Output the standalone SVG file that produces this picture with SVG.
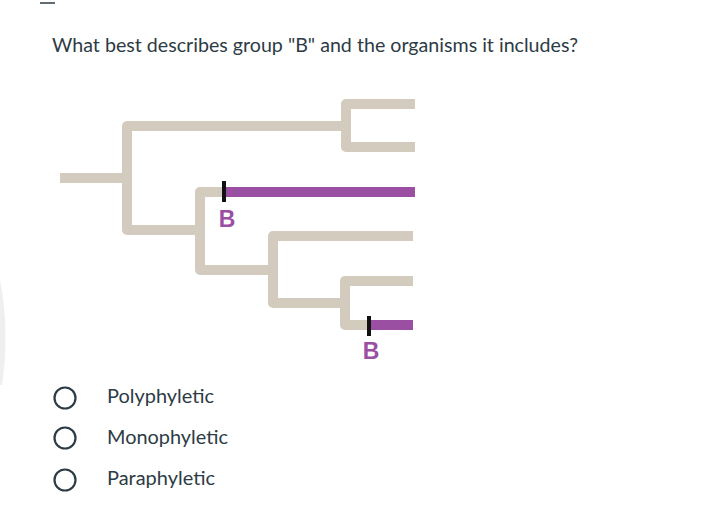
<svg xmlns="http://www.w3.org/2000/svg" width="710" height="517" viewBox="0 0 710 517">
<style>
.q{font-family:Lato,"Liberation Sans",sans-serif;fill:#2d3b45}
.g{fill:none;stroke:#d3cbbd;stroke-width:10;stroke-linejoin:round;stroke-linecap:butt}
.p{fill:none;stroke:#9a4fa2;stroke-width:10}
.t{stroke:#111;stroke-width:4}
.b{font-family:"Liberation Sans",Arial,sans-serif;font-weight:bold;font-size:23px;fill:#9a4fa2;text-anchor:middle}
.r{fill:none;stroke:#2d3b45;stroke-width:2.2}
</style>
<rect width="710" height="517" fill="#fff"/>
<line x1="40" y1="3" x2="55" y2="3" stroke="#2d3b45" stroke-width="1.5"/>
<path d="M0,280 Q10,330 2,385 L0,385 Z" fill="#efefef"/>
<text class="q" x="52" y="52" font-size="19.5" textLength="526" lengthAdjust="spacingAndGlyphs">What best describes group "B" and the organisms it includes?</text>
<g id="tree">
<path class="g" d="M60,178 H127"/>
<path class="g" d="M342,126 H127 V230 H200"/>
<path class="g" d="M415,104 H346 V147 H415"/>
<path class="g" d="M226,192 H200 V270 H273"/>
<path class="g" d="M413,236 H273 V303 H345"/>
<path class="g" d="M413,281 H345 V325 H370"/>
<path class="p" d="M224,192 H415"/>
<path class="p" d="M369,325 H413"/>
<line class="t" x1="224" y1="181" x2="224" y2="202"/>
<line class="t" x1="369" y1="316" x2="369" y2="336"/>
<text class="b" x="227" y="227">B</text>
<text class="b" x="371" y="359">B</text>
</g>
<g id="opt1"><circle class="r" cx="65" cy="398" r="10.5"/><text class="q" x="107" y="403" font-size="18.5" textLength="107" lengthAdjust="spacingAndGlyphs">Polyphyletic</text></g>
<g id="opt2"><circle class="r" cx="65" cy="438" r="10.5"/><text class="q" x="107" y="444" font-size="18.5" textLength="121" lengthAdjust="spacingAndGlyphs">Monophyletic</text></g>
<g id="opt3"><circle class="r" cx="65" cy="480" r="10.5"/><text class="q" x="107" y="485" font-size="18.5" textLength="108" lengthAdjust="spacingAndGlyphs">Paraphyletic</text></g>
</svg>
